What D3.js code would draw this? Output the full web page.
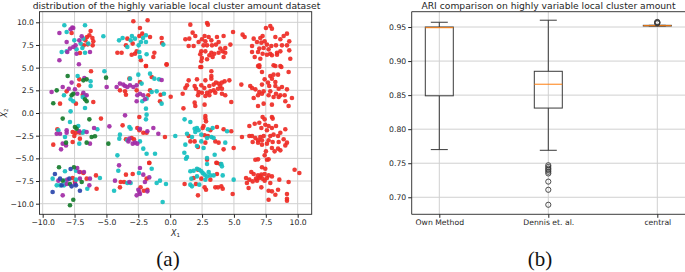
<!DOCTYPE html>
<html>
<head>
<meta charset="utf-8">
<script src="https://cdn.jsdelivr.net/npm/d3@7"></script>
<style>
  body { margin: 0; background: #fff; }
  svg text { font-family: "DejaVu Sans", sans-serif; }
</style>
</head>
<body>
<div id="chart"></div>
<script>
// ---- scatter data ----
const redPts = [
  [-6.24,9.04],[-6.52,8.38],[-6.10,8.27],[-6.65,8.01],[-6.03,7.90],[-6.47,7.57],[-6.78,7.46],[-6.08,7.46],[-7.73,8.82],[-7.08,6.62],[-6.34,8.57],
  [-2.89,10.11],[-1.77,10.22],[-2.37,9.38],[-2.42,8.49],[-1.58,8.38],[-0.67,8.27],[-3.36,8.20],[-2.94,7.65],[-0.64,7.72],[-2.63,6.80],[-4.14,6.65],[-3.81,6.65],[-3.02,6.43],[-2.76,6.54],[-1.24,6.65],[-1.32,6.18],[-2.29,5.81],[-1.90,5.18],[-0.28,5.37],[-2.19,8.75],[-3.47,7.46],
  [1.58,9.74],[2.89,9.93],[2.96,9.74],[1.76,8.86],[1.97,8.49],[1.19,8.13],[1.50,8.20],[2.70,8.49],[3.02,8.38],[3.67,8.38],[4.19,8.49],[4.93,8.93],[3.23,8.01],[2.76,7.90],[2.49,8.13],[2.23,7.83],[3.80,7.83],[1.45,7.39],[1.84,7.39],[2.89,7.46],[2.62,7.46],[3.59,7.54],[4.72,7.54],[4.32,7.17],[2.44,6.80],[2.76,6.80],[3.23,6.65],[3.46,6.54],[3.80,6.65],[4.12,6.80],[4.32,6.65],[2.36,6.47],[2.49,6.07],[2.89,5.92],[3.07,6.36],[3.33,6.18],[4.19,6.18],[2.44,5.70],[2.36,5.07],[3.93,7.10],[3.28,7.46],
  [5.68,8.64],[5.84,8.38],[6.55,8.20],[7.07,8.27],[7.25,8.49],[7.85,9.60],[7.98,9.30],[8.25,8.38],[8.90,8.49],[9.16,8.75],[8.64,8.13],[7.15,7.76],[7.41,7.90],[7.59,7.54],[7.93,7.39],[8.30,7.46],[8.77,7.46],[9.16,7.46],[9.34,7.90],[6.42,7.39],[6.99,7.10],[7.33,7.17],[7.72,7.02],[6.42,6.73],[6.89,6.73],[7.25,6.54],[7.85,6.54],[8.38,6.65],[8.64,6.80],[9.34,6.91],[9.42,5.99],[6.63,6.18],[7.07,5.99],[7.59,6.43],[7.98,6.36],[8.38,6.43],[8.11,5.26],[8.64,5.18],[6.99,5.26],[7.51,9.38],[6.81,7.83],
  [-6.21,4.60],[-7.16,3.05],[-8.12,2.39],[-6.86,2.02],[-8.64,1.03],[-7.39,1.03],[-6.03,1.21],[-7.13,3.71],
  [-3.20,3.79],[-1.90,5.18],[-0.28,5.33],[-1.45,3.97],[-2.37,3.42],[-3.94,2.50],[-3.54,2.39],[-2.63,2.50],[-1.72,1.95],[-1.58,2.50],[-0.75,2.02],[-0.80,1.29],[-3.47,2.02],[0.04,1.80],
  [2.44,5.07],[3.23,4.60],[3.23,4.08],[3.23,3.79],[1.45,3.60],[2.10,3.71],[2.76,3.60],[1.19,2.76],[1.92,2.98],[2.02,2.68],[2.44,3.05],[2.68,2.76],[3.07,2.98],[3.41,3.13],[3.59,3.35],[3.80,3.24],[4.06,3.35],[4.27,3.49],[4.64,3.60],[3.93,2.98],[3.75,2.68],[2.23,2.32],[2.49,2.24],[2.89,2.24],[3.15,2.39],[3.41,2.50],[3.54,2.24],[4.06,2.13],[4.32,1.95],[0.98,2.13],[3.07,1.95],[2.76,1.88],[2.18,1.95],[1.92,1.14],[1.97,0.77],[2.70,0.92],[4.79,1.21],[4.06,2.68],[1.32,3.05],[1.04,0.51],
  [6.89,5.18],[6.99,5.07],[8.25,5.18],[8.72,5.07],[7.20,4.52],[7.85,4.08],[8.11,4.23],[8.46,4.23],[9.29,4.52],[7.41,3.71],[7.98,3.79],[8.25,3.42],[7.67,3.35],[7.20,3.13],[5.58,3.13],[6.28,2.98],[6.42,2.76],[6.68,2.61],[6.99,2.32],[7.77,2.98],[8.25,2.98],[8.51,2.68],[8.77,2.87],[7.33,2.39],[7.85,2.39],[8.30,2.13],[8.64,1.95],[9.16,2.61],[9.55,1.65],[6.55,1.65],[6.89,1.95],[7.20,2.13],[7.72,1.95],[8.11,1.76],[8.51,1.76],[8.98,1.95],[7.33,1.03],[9.03,1.29],[9.29,0.77],[6.89,0.77],[7.98,0.92],
  [-5.43,-0.62],[-7.65,-2.10],[-7.39,-2.17],[-7.52,-2.54],[-7.08,-2.83],[-9.17,-3.49],[-7.65,-3.20],[-7.08,-2.17],[-8.85,-1.80],
  [-2.42,-0.44],[-3.73,-1.36],[-2.58,-1.65],[-2.42,-1.91],[-2.11,-2.17],[-1.85,-2.17],[-0.41,-2.65],[-3.02,-2.76],[-3.47,-2.90],[-2.84,-2.90],[-1.64,-5.48],
  [2.76,-0.33],[2.76,-0.62],[2.81,-0.92],[2.62,-1.43],[2.55,-1.65],[4.19,-1.80],[4.79,-2.02],[3.67,-1.54],[1.45,-2.54],[2.70,-2.46],[2.96,-2.54],[1.58,-3.13],[1.92,-3.13],[2.76,-3.27],[3.54,-3.13],[3.80,-3.27],[4.98,-3.86],[2.18,-3.75],[4.19,-4.01],[3.62,-5.48],[3.93,-5.63],[3.15,-1.91],
  [7.25,-0.44],[7.41,-0.70],[7.98,-0.44],[8.04,-0.62],[6.63,-1.18],[6.99,-1.07],[7.46,-1.29],[7.72,-1.43],[6.21,-1.43],[7.15,-1.65],[7.59,-1.91],[7.98,-1.65],[8.30,-1.43],[9.03,-1.80],[8.64,-2.17],[5.63,-2.65],[6.21,-2.54],[6.42,-2.54],[6.68,-2.76],[7.07,-2.65],[7.33,-2.54],[7.85,-2.54],[8.11,-2.39],[8.46,-2.54],[8.90,-2.90],[6.47,-3.20],[6.89,-3.27],[7.20,-3.49],[7.59,-3.38],[8.04,-3.20],[8.51,-3.20],[9.16,-3.27],[7.20,-3.01],[6.89,-3.01],[7.72,-3.01],[7.98,-3.86],[8.46,-3.93],[8.19,-4.23],[8.64,-4.12],[9.03,-3.57],[6.89,-5.11],[7.72,-5.11],[7.41,-4.67],[7.51,-4.23],
  [-7.08,-6.51],[-6.81,-6.62],[-7.65,-7.17],[-6.55,-7.24],[-5.82,-6.88],[-5.77,-8.35],[-7.47,-7.61],
  [-2.94,-6.73],[-1.64,-5.51],[-3.88,-7.61],[-3.62,-7.61],[-1.85,-7.24],[-2.32,-8.20],[-2.06,-8.57],[-1.79,-8.46],[-3.47,-6.80],[-3.94,-8.20],
  [3.67,-5.51],[2.18,-6.25],[3.67,-6.73],[1.84,-7.17],[2.44,-7.24],[1.13,-7.83],[2.02,-7.83],[2.70,-8.20],[2.81,-8.46],[3.54,-8.20],[3.75,-8.20],[4.01,-8.09],[4.12,-8.35],[4.90,-8.93],[2.18,-9.08],[2.89,-5.15],[3.15,-7.35],
  [6.68,-5.15],[7.59,-5.15],[7.20,-5.99],[7.46,-6.14],[6.36,-6.51],[6.55,-6.73],[6.89,-6.88],[7.15,-6.80],[7.41,-6.73],[7.72,-6.88],[7.98,-6.99],[6.99,-7.17],[7.25,-7.24],[7.59,-7.17],[6.73,-7.24],[6.21,-7.35],[5.95,-7.17],[6.47,-7.54],[6.02,-7.72],[7.85,-7.72],[8.56,-7.35],[9.29,-7.61],[9.76,-6.25],[10.13,-6.62],[6.15,-8.27],[7.15,-8.20],[7.98,-8.64],[7.72,-8.57],[8.46,-8.46],[9.16,-8.93],[8.25,-9.01],[7.72,-9.56],[9.16,-9.45],[9.16,-9.67],[7.07,-6.99],[6.81,-7.46],[7.41,-7.46]
];
const cyanPts = [
  [-8.30,9.67],[-6.68,9.67],[-8.12,8.93],[-5.24,8.46],[-7.52,8.01],[-6.42,7.65],[-8.51,6.73],[-8.12,6.80],[-7.34,7.02],[-6.89,7.17],[-6.68,6.65],[-6.81,8.20],[-7.02,7.65],
  [-3.00,8.49],[-3.73,8.27],[-4.01,8.01],[-3.10,8.01],[-1.90,8.57],[-2.13,8.27],[-2.29,7.83],[-2.47,7.46],[-1.90,7.83],[-0.54,7.54],[-3.36,7.28],[-2.42,6.73],[-1.85,6.47],[-2.37,6.18],[-2.76,8.20],
  [-5.16,4.60],[-7.26,4.08],[-6.24,2.98],[-8.33,1.95],[-6.86,1.76],[-7.81,1.51],[-7.60,1.29],[-7.81,0.18],[-6.68,0.55],[-6.68,1.95],[-6.24,3.49],
  [-2.50,4.23],[-1.58,4.34],[-1.24,3.79],[-0.88,3.71],[-2.24,3.24],[-3.15,3.79],[-1.45,2.32],[-1.06,2.39],[-0.49,2.13],[-2.19,1.29],[-1.85,1.58],[-0.67,1.03],[-1.90,0.48],
  [-7.86,-0.99],[-7.21,-1.43],[-8.77,-1.91],[-8.25,-2.65],[-6.86,-2.17],[-6.76,-2.02],[-5.71,-1.80],[-7.13,-3.38],
  [-1.85,-0.18],[-1.90,-0.70],[-3.20,-1.54],[-3.10,-1.73],[-3.94,-2.39],[-3.99,-2.83],[-3.36,-3.01],[-2.37,-3.13],[-2.11,-3.93],[-1.85,-4.49],[-1.19,-4.49],[-4.14,-4.67],
  [1.13,-0.70],[1.58,-0.99],[1.92,-1.73],[2.10,-1.65],[2.23,-1.91],[2.96,-1.80],[3.33,-1.65],[4.46,-2.02],[1.32,-2.28],[1.71,-2.65],[2.44,-2.39],[3.23,-2.65],[3.41,-2.76],[2.89,-2.76],[2.10,-3.64],[2.44,-3.13],[1.19,-3.49],[4.32,-3.27],[2.62,-3.86],[3.49,-4.60],[1.11,-4.38],[1.32,-4.85],[2.89,-4.96],[0.40,-2.54],[1.97,-2.10],
  [-7.39,-6.36],[-8.25,-6.43],[-9.22,-7.24],[-7.39,-7.35],[-5.51,-7.17],[-8.90,-7.98],[-8.64,-7.98],[-8.33,-7.98],[-6.50,-8.35],[-8.25,-7.46],
  [-4.07,-6.36],[-1.45,-6.14],[-2.45,-6.62],[-3.36,-7.72],[-3.10,-7.72],[-1.06,-7.72],[-0.80,-7.46],[-0.33,-7.83],[-4.40,-8.57],[-0.59,-9.82],
  [1.24,-5.04],[2.89,-5.62],[4.01,-5.62],[4.06,-5.88],[1.58,-6.43],[1.84,-6.36],[2.10,-6.14],[2.28,-6.25],[2.44,-6.43],[2.55,-6.62],[2.70,-6.80],[3.15,-6.88],[3.41,-6.88],[3.02,-6.51],[4.12,-6.88],[1.66,-7.24],[2.10,-6.99],[2.89,-6.99],[2.76,-7.35],[4.98,-7.35],[1.58,-7.90],[1.71,-8.09],[2.28,-7.90]
];
const magentaPts = [
  [-7.68,9.41],[-7.81,9.23],[-7.60,9.38],[-8.69,8.82],[-6.94,8.46],[-8.12,7.83],[-7.13,8.01],[-7.42,7.46],[-7.86,7.10],[-8.07,6.73],[-6.29,6.73],[-7.34,6.54],[-8.69,5.81],[-7.16,5.37],[-7.60,7.28],
  [-6.73,3.86],[-7.73,3.35],[-8.43,2.87],[-7.96,2.68],[-9.30,2.32],[-4.98,2.87],[-7.47,2.61],[-7.29,2.13],[-6.55,1.95],[-6.81,2.24],
  [-3.94,3.24],[-3.68,3.13],[-3.54,2.98],[-3.36,2.87],[-2.63,3.05],[-2.89,2.87],[-4.20,2.87],[-2.37,2.13],[-2.11,1.95],[-2.58,1.95],[-1.98,1.51],[-2.63,1.29],[-0.67,3.64],[-3.15,3.05],
  [-8.12,-1.91],[-8.90,-2.28],[-8.64,-2.28],[-8.12,-2.17],[-6.55,-2.10],[-5.97,-1.65],[-4.77,-1.47],[-8.43,-3.38],[-8.17,-3.57],[-8.56,-4.01],[-7.13,-2.02],[-6.29,-3.38],
  [-3.54,-0.26],[-1.79,-2.02],[-1.32,-1.65],[-0.93,-2.28],[-2.37,-1.73],[-3.20,-2.83],[-3.28,-3.13],[-2.94,-3.38],[-2.76,-3.27],[-2.58,-3.38],
  [-7.29,-6.07],[-7.13,-6.51],[-6.76,-6.51],[-8.77,-7.46],[-8.07,-7.35],[-7.08,-7.24],[-6.29,-7.24],[-8.12,-7.83],[-7.47,-7.83],[-6.34,-7.98],[-8.43,-9.08],
  [-4.01,-5.77],[-2.37,-6.07],[-4.33,-7.46],[-3.20,-7.61],[-1.98,-7.61],[-1.64,-7.10],[-2.11,-6.80],[-2.50,-8.46],[-2.42,-8.71],[-2.63,-9.08],[-2.37,-8.93],[-1.79,-8.64]
];
const greenPts = [
  [-8.04,4.08],[-6.81,3.60],[-6.55,3.71],[-5.03,3.90],[-8.90,2.50],[-7.60,2.13],[-7.73,1.95],[-6.68,1.51],[-6.55,1.29],[-9.17,1.07],
  [-8.43,-0.62],[-7.47,-1.54],[-7.34,-1.73],[-6.34,-0.70],[-6.55,-3.27],[-6.16,-2.65],[-5.90,-2.57],[-8.17,-3.27],[-4.85,-3.38],
  [-8.72,-5.99],[-7.55,-5.99],[-8.43,-7.46],[-6.94,-7.61],[-7.86,-7.83],[-7.60,-9.56],[-7.86,-10.18]
];
const bluePts = [
  [-7.81,-6.18],[-9.04,-6.73],[-8.64,-7.24],[-7.91,-7.24],[-8.51,-7.98],[-7.73,-8.09],[-7.39,-7.98],[-7.08,-8.57],[-9.22,-8.71]
];
const scatterTicks = [-10, -7.5, -5, -2.5, 0, 2.5, 5, 7.5, 10];

// ---- box plot data ----
const methods = ["Own Method", "Dennis et. al.", "central"];
const q1s = [0.849, 0.831, 0.9515];
const medians = [0.949, 0.866, 0.952];
const q3s = [0.950, 0.885, 0.9525];
const whiskerLow = [0.770, 0.769, 0.9515];
const whiskerHigh = [0.957, 0.960, 0.9525];
const outliers = [[], [0.747, 0.7445, 0.742, 0.740, 0.7375, 0.735, 0.723, 0.711, 0.689], [0.9555, 0.956, 0.957, 0.9575]];
const boxTicks = [0.70, 0.75, 0.80, 0.85, 0.90, 0.95];

const W = 685, H = 272;
const svg = d3.select('#chart').append('svg').attr('width', W).attr('height', H);

const gridColor = '#d0d0d0', axisColor = '#262626', tickFont = 7.7, titleFont = 9.2;

// ===== panel (a) =====
const A = {left: 39.5, right: 311.7, top: 11.7, bottom: 214.3};
const xA = d3.scaleLinear().domain([-10.25, 11.1]).range([A.left, A.right]);
const yA = d3.scaleLinear().domain([-11.17, 11.17]).range([A.bottom, A.top]);

const gA = svg.append('g');
gA.selectAll('.gx').data(scatterTicks).enter().append('line')
  .attr('x1', d => xA(d)).attr('x2', d => xA(d)).attr('y1', A.top).attr('y2', A.bottom)
  .attr('stroke', gridColor).attr('stroke-width', 1);
gA.selectAll('.gy').data(scatterTicks).enter().append('line')
  .attr('y1', d => yA(d)).attr('y2', d => yA(d)).attr('x1', A.left).attr('x2', A.right)
  .attr('stroke', gridColor).attr('stroke-width', 1);

const series = [
  {pts: redPts, color: '#ee2b25'},
  {pts: cyanPts, color: '#14bfc0'},
  {pts: magentaPts, color: '#a22ba6'},
  {pts: greenPts, color: '#167c2c'},
  {pts: bluePts, color: '#2a45ab'}
];
series.forEach(s => {
  gA.append('g').selectAll('circle').data(s.pts).enter().append('circle')
    .attr('cx', d => xA(d[0])).attr('cy', d => yA(d[1])).attr('r', 2.3)
    .attr('fill', s.color).attr('fill-opacity', 0.92);
});

gA.append('rect').attr('x', A.left).attr('y', A.top)
  .attr('width', A.right - A.left).attr('height', A.bottom - A.top)
  .attr('fill', 'none').attr('stroke', axisColor).attr('stroke-width', 0.9);

const fmt = d3.format('.1f');
const axXA = gA.append('g').attr('transform', `translate(0,${A.bottom})`)
  .call(d3.axisBottom(xA).tickValues(scatterTicks).tickFormat(fmt).tickSize(3.5).tickPadding(2));
const axYA = gA.append('g').attr('transform', `translate(${A.left},0)`)
  .call(d3.axisLeft(yA).tickValues(scatterTicks).tickFormat(fmt).tickSize(3.5).tickPadding(2));
[axXA, axYA].forEach(ax => {
  ax.select('.domain').remove();
  ax.selectAll('line').attr('stroke', axisColor);
  ax.selectAll('text').attr('fill', axisColor).style('font-size', tickFont + 'px');
});

gA.append('text').attr('x', 176.5).attr('y', 8.6)
  .attr('text-anchor', 'middle').style('font-size', titleFont + 'px').attr('fill', axisColor)
  .text('distribution of the highly variable local cluster amount dataset');

const xl = gA.append('text').attr('x', (A.left + A.right) / 2).attr('y', 235.5)
  .attr('text-anchor', 'middle').attr('fill', axisColor).style('font-size', '8px');
xl.append('tspan').style('font-style', 'italic').text('X');
xl.append('tspan').attr('dy', 1.8).style('font-size', '5.6px').text('1');

const yl = gA.append('text').attr('transform', `translate(6.5,${(A.top + A.bottom) / 2}) rotate(-90)`)
  .attr('text-anchor', 'middle').attr('fill', axisColor).style('font-size', '8px');
yl.append('tspan').style('font-style', 'italic').text('X');
yl.append('tspan').attr('dy', 1.8).style('font-size', '5.6px').text('2');

// ===== panel (b) =====
const B = {left: 411.7, right: 686, top: 11.7, bottom: 214.3};
const xB = d3.scaleLinear().domain([1, 3]).range([439.3, 657.3]);
const yB = d3.scaleLinear().domain([0.675, 0.9725]).range([B.bottom, B.top]);
const boxW = 28, capW = 17;

const gB = svg.append('g');
gB.selectAll('.gy').data(boxTicks).enter().append('line')
  .attr('y1', d => yB(d)).attr('y2', d => yB(d)).attr('x1', B.left).attr('x2', B.right)
  .attr('stroke', gridColor).attr('stroke-width', 1);
gB.selectAll('.gx').data(methods).enter().append('line')
  .attr('x1', (d, i) => xB(i + 1)).attr('x2', (d, i) => xB(i + 1)).attr('y1', B.top).attr('y2', B.bottom)
  .attr('stroke', gridColor).attr('stroke-width', 1);

const boxColor = '#3a3a3a';
methods.forEach((m, i) => {
  const cx = xB(i + 1);
  const g = gB.append('g');
  // whiskers
  g.append('line').attr('x1', cx).attr('x2', cx).attr('y1', yB(q3s[i])).attr('y2', yB(whiskerHigh[i]))
    .attr('stroke', boxColor).attr('stroke-width', 1);
  g.append('line').attr('x1', cx).attr('x2', cx).attr('y1', yB(q1s[i])).attr('y2', yB(whiskerLow[i]))
    .attr('stroke', boxColor).attr('stroke-width', 1);
  [whiskerLow[i], whiskerHigh[i]].forEach(v => {
    g.append('line').attr('x1', cx - capW / 2).attr('x2', cx + capW / 2).attr('y1', yB(v)).attr('y2', yB(v))
      .attr('stroke', boxColor).attr('stroke-width', 1);
  });
  // box
  g.append('rect').attr('x', cx - boxW / 2).attr('y', yB(q3s[i]))
    .attr('width', boxW).attr('height', Math.max(0.5, yB(q1s[i]) - yB(q3s[i])))
    .attr('fill', 'none').attr('stroke', boxColor).attr('stroke-width', 1);
  // median
  g.append('line').attr('x1', cx - boxW / 2).attr('x2', cx + boxW / 2)
    .attr('y1', yB(medians[i])).attr('y2', yB(medians[i]))
    .attr('stroke', '#ff7f0e').attr('stroke-width', 1);
  // fliers
  g.selectAll('circle').data(outliers[i]).enter().append('circle')
    .attr('cx', cx).attr('cy', d => yB(d)).attr('r', 2.6)
    .attr('fill', 'none').attr('stroke', boxColor).attr('stroke-width', 0.9);
});

gB.append('line').attr('x1', B.left).attr('x2', B.left).attr('y1', B.top).attr('y2', B.bottom)
  .attr('stroke', axisColor).attr('stroke-width', 0.9);
gB.append('line').attr('x1', B.left).attr('x2', B.right).attr('y1', B.bottom).attr('y2', B.bottom)
  .attr('stroke', axisColor).attr('stroke-width', 0.9);
gB.append('line').attr('x1', B.left).attr('x2', B.right).attr('y1', B.top).attr('y2', B.top)
  .attr('stroke', axisColor).attr('stroke-width', 0.9);

const axYB = gB.append('g').attr('transform', `translate(${B.left},0)`)
  .call(d3.axisLeft(yB).tickValues(boxTicks).tickFormat(d3.format('.2f')).tickSize(3.5).tickPadding(2));
const axXB = gB.append('g').attr('transform', `translate(0,${B.bottom})`)
  .call(d3.axisBottom(xB).tickValues([1, 2, 3]).tickFormat((d, i) => methods[i]).tickSize(3.5).tickPadding(2));
[axXB, axYB].forEach(ax => {
  ax.select('.domain').remove();
  ax.selectAll('line').attr('stroke', axisColor);
  ax.selectAll('text').attr('fill', axisColor).style('font-size', tickFont + 'px');
});

gB.append('text').attr('x', 548.5).attr('y', 8.6)
  .attr('text-anchor', 'middle').style('font-size', titleFont + 'px').attr('fill', axisColor)
  .text('ARI comparison on highly variable local cluster amount');

// captions
svg.append('text').attr('x', 168).attr('y', 266).attr('text-anchor', 'middle')
  .style('font-family', '"Liberation Serif", serif').style('font-size', '21px').attr('fill', '#111').text('(a)');
svg.append('text').attr('x', 540).attr('y', 266).attr('text-anchor', 'middle')
  .style('font-family', '"Liberation Serif", serif').style('font-size', '21px').attr('fill', '#111').text('(b)');
</script>
</body>
</html>
